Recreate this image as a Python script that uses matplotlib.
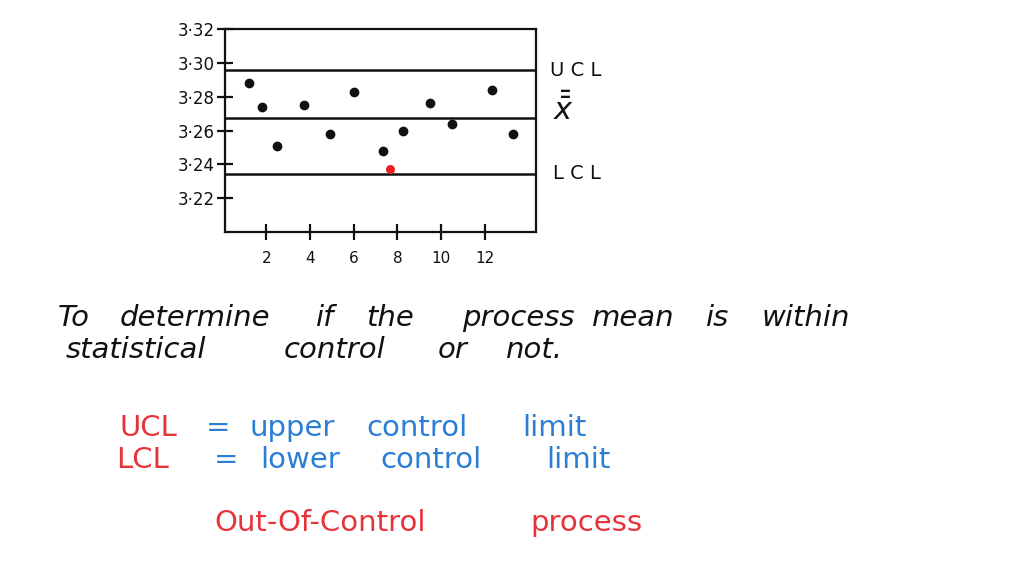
import matplotlib
matplotlib.use("Agg")
import matplotlib.pyplot as plt

# ---- data ----
sample_x = [1.2, 1.8, 2.5, 3.7, 4.9, 6.0, 7.35, 8.25, 9.5, 10.5, 12.35, 13.3]
sample_y = [3.288, 3.274, 3.251, 3.275, 3.258, 3.283, 3.248, 3.260, 3.276, 3.264, 3.284, 3.258]
out_x = [7.65]
out_y = [3.237]
ucl = 3.2955
center = 3.2675
lcl = 3.2345
y_ticks = [3.22, 3.24, 3.26, 3.28, 3.30, 3.32]
y_tick_labels = ["3·22", "3·24", "3·26", "3·28", "3·30", "3·32"]
x_ticks = [2, 4, 6, 8, 10, 12]
x_tick_labels = ["2", "4", "6", "8", "10", "12"]
line_labels = ["U C L", r"$\bar{\bar{x}}$", "L C L"]

W, H = 1024, 576
fig = plt.figure(figsize=(W / 100, H / 100), dpi=100)
fig.patch.set_facecolor("white")

def fx(px):
    return px / W

def fy(py):
    return 1 - py / H

ax = fig.add_axes([fx(225), fy(232), fx(536) - fx(225), fy(29) - fy(232)])
ax.set_xlim(0.1, 14.35)
ax.set_ylim(3.20, 3.32)
for s in ax.spines.values():
    s.set_linewidth(1.6)
    s.set_color("#111111")

for v in (ucl, center, lcl):
    ax.axhline(v, color="#111111", lw=1.8)

ax.plot(sample_x, sample_y, "o", color="#111111", ms=6, ls="none")
ax.plot(out_x, out_y, "o", color="#e8231f", ms=5.5, ls="none")

ax.set_yticks(y_ticks)
ax.set_yticklabels(y_tick_labels)
ax.set_xticks(x_ticks)
ax.set_xticklabels(x_tick_labels)
ax.tick_params(axis="y", direction="inout", length=11, width=1.6, pad=2, labelsize=12, colors="#111111")
ax.tick_params(axis="x", direction="inout", length=12, width=1.6, pad=8, labelsize=11, colors="#111111")

# labels at right of chart
tr = ax.get_yaxis_transform()
ax.text(1.045, ucl, line_labels[0], transform=tr, fontsize=14, va="center", ha="left", color="#111111")
ax.text(1.055, 3.2725, line_labels[1], transform=tr, fontsize=22, va="center", ha="left", color="#111111")
ax.text(1.055, lcl, line_labels[2], transform=tr, fontsize=14, va="center", ha="left", color="#111111")

# handwritten-style notes, word by word
BLACK, RED, BLUE = "#111111", "#e8323a", "#2a7fd4"
notes = [
    # (x px, y px, text, colour, italic)
    (58, 318, "To", BLACK, True), (120, 318, "determine", BLACK, True), (316, 318, "if", BLACK, True),
    (366, 318, "the", BLACK, True), (462, 318, "process", BLACK, True), (592, 318, "mean", BLACK, True),
    (706, 318, "is", BLACK, True), (762, 318, "within", BLACK, True),
    (66, 350, "statistical", BLACK, True), (284, 350, "control", BLACK, True),
    (438, 350, "or", BLACK, True), (506, 350, "not.", BLACK, True),
    (119, 428, "UCL", RED, False), (206, 428, "=", BLUE, False), (250, 428, "upper", BLUE, False),
    (366, 428, "control", BLUE, False), (522, 428, "limit", BLUE, False),
    (116, 460, "LCL", RED, False), (214, 460, "=", BLUE, False), (260, 460, "lower", BLUE, False),
    (380, 460, "control", BLUE, False), (546, 460, "limit", BLUE, False),
    (214, 523, "Out-Of-Control", RED, False), (530, 523, "process", RED, False),
]
for x, y, t, c, it in notes:
    fig.text(fx(x), fy(y), t, fontsize=21, fontstyle="italic" if it else "normal",
             va="center", ha="left", color=c)

fig.savefig("out.png", dpi=100, facecolor="white")
